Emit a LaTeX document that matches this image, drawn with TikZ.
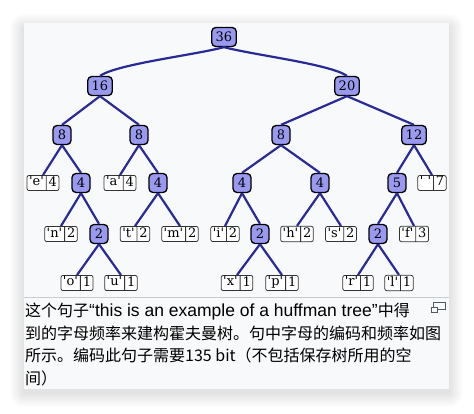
\documentclass[tikz,border=0pt]{standalone}
\usepackage{fontspec}
\usetikzlibrary{shapes.multipart}
\newfontfamily\treefont{DejaVu Serif}[Ligatures=TeXOff]
\newfontfamily\cjk{Noto Sans CJK SC}
\newfontfamily\latinf{Liberation Sans}
\definecolor{nodeblue}{RGB}{153,153,240}
\definecolor{edgeblue}{RGB}{42,42,150}
\definecolor{cardbg}{RGB}{248,249,250}
\definecolor{sepgrey}{RGB}{200,204,209}
\definecolor{icongrey}{RGB}{84,89,93}
\tikzset{
  inner/.style={draw=black, line width=1.3pt, fill=nodeblue, rounded corners=4pt,
    minimum width=18pt, minimum height=19pt, inner xsep=4pt, inner ysep=0pt,
    font=\treefont\fontsize{13}{15}\selectfont},
  leaf/.style={draw=black!80, line width=0.8pt, fill=white, rounded corners=2pt,
    rectangle split, rectangle split horizontal, rectangle split parts=2,
    inner xsep=2pt, inner ysep=1pt,
    execute at begin node={\rule[-3.5pt]{0pt}{13pt}},
    font=\treefont\fontsize{13}{15}\selectfont},
  edge/.style={draw=edgeblue, line width=2.2pt},
  captxt/.style={anchor=base west, inner sep=0pt, font=\cjk\fontsize{16}{22}\selectfont}
}
\begin{document}
\begin{tikzpicture}[x=1pt,y=-1pt]
\useasboundingbox (0,0) rectangle (474,414);
\fill[white] (0,0) rectangle (474,414);
% shadow
\foreach \i in {1,...,14}{
  \fill[black, opacity=0.009, rounded corners=\i pt] (24-\i,23-\i+5) rectangle (449+\i,389+\i+4);
}
% card
\fill[cardbg] (24,23) rectangle (449,389);
\draw[sepgrey, line width=1pt] (24,297) -- (449,297);

% inner nodes
\node[inner] (n36) at (224,37) {36};
\node[inner] (n16) at (100,86) {16};
\node[inner] (n20) at (347,86) {20};
\node[inner] (n8a) at (62,135) {8};
\node[inner] (n8b) at (139,135) {8};
\node[inner] (n8c) at (281,135) {8};
\node[inner] (n12) at (414,135) {12};
\node[inner] (n4a) at (81,183) {4};
\node[inner] (n4b) at (158,183) {4};
\node[inner] (n4c) at (242,183) {4};
\node[inner] (n4d) at (320,183) {4};
\node[inner] (n5) at (397,183) {5};
\node[inner] (n2a) at (99,234) {2};
\node[inner] (n2b) at (260,234) {2};
\node[inner] (n2c) at (378,234) {2};

% leaves
\node[leaf] (le) at (43,183) {'e'\nodepart{two}4};
\node[leaf] (la) at (120,183) {'a'\nodepart{two}4};
\node[leaf] (lsp) at (432,183) {' '\nodepart{two}7};
\node[leaf] (ln) at (61,234) {'n'\nodepart{two}2};
\node[leaf] (lt) at (135,234) {'t'\nodepart{two}2};
\node[leaf] (lm) at (180,234) {'m'\nodepart{two}2};
\node[leaf] (li) at (225,234) {'i'\nodepart{two}2};
\node[leaf] (lh) at (297,234) {'h'\nodepart{two}2};
\node[leaf] (ls) at (341,234) {'s'\nodepart{two}2};
\node[leaf] (lf) at (414,234) {'f'\nodepart{two}3};
\node[leaf] (lo) at (77,283) {'o'\nodepart{two}1};
\node[leaf] (lu) at (121,283) {'u'\nodepart{two}1};
\node[leaf] (lx) at (237,283) {'x'\nodepart{two}1};
\node[leaf] (lp) at (282,283) {'p'\nodepart{two}1};
\node[leaf] (lr) at (358,283) {'r'\nodepart{two}1};
\node[leaf] (ll) at (399,283) {'l'\nodepart{two}1};

% edges
\draw[edge] (n36.south) .. controls +(-30,8) and +(18,-12) .. (n16.north);
\draw[edge] (n36.south) .. controls +(30,8) and +(-18,-12) .. (n20.north);
\draw[edge] (n16.south) -- (n8a.north);
\draw[edge] (n16.south) -- (n8b.north);
\draw[edge] (n20.south) -- (n8c.north);
\draw[edge] (n20.south) -- (n12.north);
\draw[edge] (n8a.south) -- (le.north);
\draw[edge] (n8a.south) -- (n4a.north);
\draw[edge] (n8b.south) -- (la.north);
\draw[edge] (n8b.south) -- (n4b.north);
\draw[edge] (n8c.south) -- (n4c.north);
\draw[edge] (n8c.south) -- (n4d.north);
\draw[edge] (n12.south) -- (n5.north);
\draw[edge] (n12.south) -- (lsp.north);
\draw[edge] (n4a.south) -- (ln.north);
\draw[edge] (n4a.south) -- (n2a.north);
\draw[edge] (n4b.south) -- (lt.north);
\draw[edge] (n4b.south) -- (lm.north);
\draw[edge] (n4c.south) -- (li.north);
\draw[edge] (n4c.south) -- (n2b.north);
\draw[edge] (n4d.south) -- (lh.north);
\draw[edge] (n4d.south) -- (ls.north);
\draw[edge] (n5.south) -- (n2c.north);
\draw[edge] (n5.south) -- (lf.north);
\draw[edge] (n2a.south) -- (lo.north);
\draw[edge] (n2a.south) -- (lu.north);
\draw[edge] (n2b.south) -- (lx.north);
\draw[edge] (n2b.south) -- (lp.north);
\draw[edge] (n2c.south) -- (lr.north);
\draw[edge] (n2c.south) -- (ll.north);

% caption
\node[captxt] (c1) at (25,316.5) {这个句子{\latinf\fontsize{17.5}{22}\selectfont “this is an example of a huffman tree”}中得};
\node[captxt] (c2) at (25,339) {到的字母频率来建构霍夫曼树。句中字母的编码和频率如图};
\node[captxt] (c3) at (25,361.5) {所示。编码此句子需要135 bit（不包括保存树所用的空};
\node[captxt] (c4) at (25,384) {间）};

% enlarge icon
\draw[icongrey, line width=0.9pt] (433.5,302.5) rectangle (445,309);
\filldraw[fill=cardbg, draw=icongrey, line width=0.9pt] (431,307.5) rectangle (437,312.5);
\end{tikzpicture}
\end{document}
